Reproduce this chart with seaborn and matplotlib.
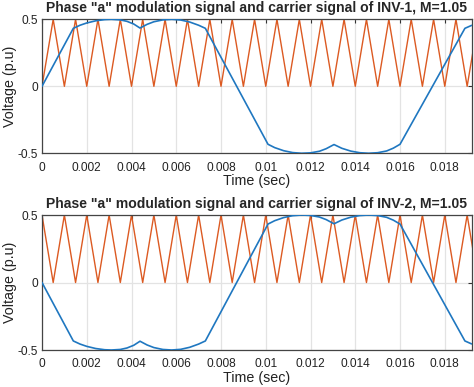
import matplotlib
matplotlib.use("Agg")
import matplotlib.pyplot as plt
import seaborn as sns
import pandas as pd

# Carrier vertices (triangle, 0..0.5, 1 kHz)
carrier_t = [0.0, 0.0005, 0.001, 0.0015, 0.002, 0.0025, 0.003, 0.0035, 0.004, 0.0045,
             0.005, 0.0055, 0.006, 0.0065, 0.007, 0.0075, 0.008, 0.0085, 0.009, 0.0095,
             0.010, 0.0105, 0.011, 0.0115, 0.012, 0.0125, 0.013, 0.0135, 0.014, 0.0145,
             0.015, 0.0155, 0.016, 0.0165, 0.017, 0.0175, 0.018, 0.0185, 0.019, 0.0195]
carrier1_v = [0, 0.5, 0, 0.5, 0, 0.5, 0, 0.5, 0, 0.5,
              0, 0.5, 0, 0.5, 0, 0.5, 0, 0.5, 0, 0.5,
              0, 0.5, 0, 0.5, 0, 0.5, 0, 0.5, 0, 0.5,
              0, 0.5, 0, 0.5, 0, 0.5, 0, 0.5, 0, 0.5]
carrier2_v = [0.5, 0, 0.5, 0, 0.5, 0, 0.5, 0, 0.5, 0,
              0.5, 0, 0.5, 0, 0.5, 0, 0.5, 0, 0.5, 0,
              0.5, 0, 0.5, 0, 0.5, 0, 0.5, 0, 0.5, 0,
              0.5, 0, 0.5, 0, 0.5, 0, 0.5, 0, 0.5, 0]

# Modulation signal
mod_t = [0.0, 0.0014, 0.0017, 0.0020, 0.0024, 0.0028, 0.0031, 0.0035, 0.0038, 0.0041,
         0.00438, 0.0047, 0.0050, 0.0054, 0.0058, 0.0062, 0.0066, 0.0070, 0.0073,
         0.0101, 0.0104, 0.0108, 0.0112, 0.0116, 0.0120, 0.0124, 0.0127, 0.01305,
         0.0134, 0.0138, 0.0142, 0.0146, 0.0150, 0.0154, 0.0157, 0.0160, 0.0189, 0.0192]
mod1_v = [0.0, 0.433, 0.456, 0.473, 0.489, 0.498, 0.500, 0.496, 0.485, 0.465,
          0.435, 0.463, 0.482, 0.496, 0.500, 0.495, 0.480, 0.456, 0.433,
          -0.433, -0.458, -0.481, -0.495, -0.500, -0.497, -0.485, -0.466, -0.435,
          -0.463, -0.484, -0.496, -0.500, -0.496, -0.483, -0.462, -0.433, 0.433, 0.455]
mod2_v = [0.0, -0.433, -0.456, -0.473, -0.489, -0.498, -0.500, -0.496, -0.485, -0.465,
          -0.435, -0.463, -0.482, -0.496, -0.500, -0.495, -0.480, -0.456, -0.433,
          0.433, 0.458, 0.481, 0.495, 0.500, 0.497, 0.485, 0.466, 0.435,
          0.463, 0.484, 0.496, 0.500, 0.496, 0.483, 0.462, 0.433, -0.433, -0.455]

x_ticks = [0, 0.002, 0.004, 0.006, 0.008, 0.01, 0.012, 0.014, 0.016, 0.018]
x_labels = ["0", "0.002", "0.004", "0.006", "0.008", "0.01", "0.012", "0.014", "0.016", "0.018"]
y_ticks = [-0.5, 0, 0.5]
y_labels = ["-0.5", "0", "0.5"]

titles = ['Phase "a" modulation signal and carrier signal of INV-1, M=1.05',
          'Phase "a" modulation signal and carrier signal of INV-2, M=1.05']

sns.set_style("white")
plt.rcParams['font.family'] = ['Liberation Sans', 'DejaVu Sans']

fig = plt.figure(figsize=(4.74, 3.87), dpi=100)
ax1 = fig.add_axes([0.0886, 0.604, 0.9064, 0.346])
ax2 = fig.add_axes([0.0886, 0.0956, 0.9064, 0.3488])

blue = "#1f77c0"
orange = "#dc5a22"

for ax, car, mod, title in [(ax1, carrier1_v, mod1_v, titles[0]),
                            (ax2, carrier2_v, mod2_v, titles[1])]:
    car_df = pd.DataFrame({"t": carrier_t, "v": car})
    mod_df = pd.DataFrame({"t": mod_t, "v": mod})
    sns.lineplot(data=mod_df, x="t", y="v", ax=ax, color=blue, lw=1.2,
                 estimator=None, sort=False, zorder=3)
    sns.lineplot(data=car_df, x="t", y="v", ax=ax, color=orange, lw=1.0,
                 estimator=None, sort=False, zorder=2)
    ax.set_xlim(0, 0.0192)
    ax.set_ylim(-0.5, 0.5)
    ax.set_xticks(x_ticks)
    ax.set_xticklabels(x_labels)
    ax.set_yticks(y_ticks)
    ax.set_yticklabels(y_labels)
    ax.grid(True, color="#e3e3e3", lw=0.9)
    ax.set_axisbelow(True)
    ax.tick_params(direction="in", length=3, width=0.8, color="#333333",
                   labelsize=8.6, top=True, right=True, labelcolor="#222222")
    ax.tick_params(axis="x", pad=6)
    ax.tick_params(axis="y", pad=3)
    for s in ax.spines.values():
        s.set_color("#444444")
        s.set_linewidth(0.9)
    ax.set_xlabel("Time (sec)", fontsize=10.3, labelpad=0.5, color="#222222")
    ax.set_ylabel("Voltage (p.u)", fontsize=10.3, labelpad=0, color="#222222")
    ax.set_title(title, fontsize=10.1, fontweight="bold", pad=5)

fig.savefig("out.png", dpi=100)
